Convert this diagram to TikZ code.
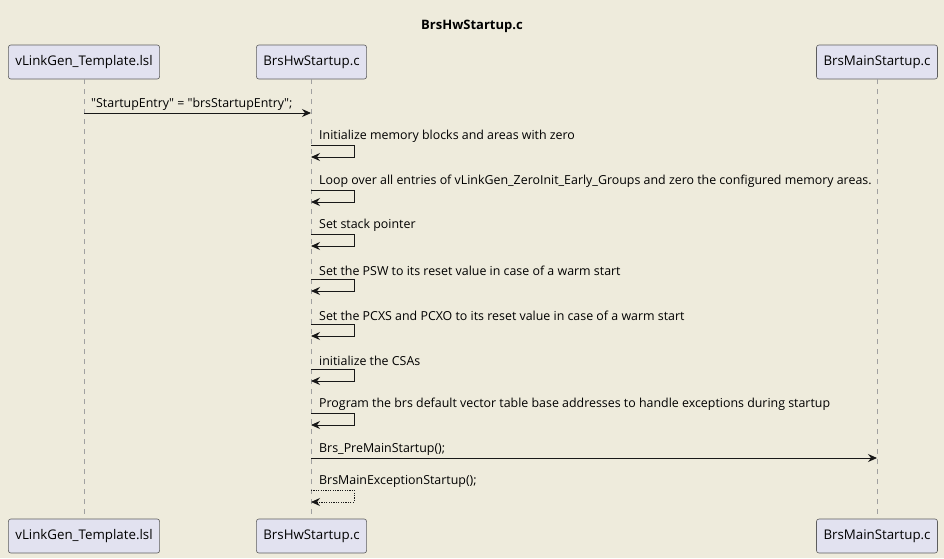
\documentclass[tikz,border=0pt]{standalone}
\usepackage{fontspec}
\setmainfont{Open Sans}
\usetikzlibrary{arrows.meta}
\definecolor{bg}{HTML}{EEEBDC}
\definecolor{pbox}{HTML}{E2E2F0}
\definecolor{pline}{HTML}{181818}
\definecolor{life}{HTML}{A0A0A0}
\tikzset{
  x=1pt, y=-1pt,
  part/.style={draw=pline!70, fill=pbox, rounded corners=2.5pt, line width=0.6pt, minimum height=34pt, inner xsep=7pt, font=\fontsize{13.3}{15}\selectfont, text=black},
  lifeline/.style={draw=life, dash pattern=on 5pt off 5pt, line width=0.8pt},
  msg/.style={draw=pline, line width=0.9pt, -{Stealth[length=9pt,width=8pt,inset=3pt]}},
  retmsg/.style={msg, dash pattern=on 1.2pt off 1.2pt},
  lbl/.style={font=\fontsize{12.4}{14}\selectfont, anchor=west, inner sep=0pt, text=black},
}
\begin{document}
\begin{tikzpicture}
\fill[bg] (0,0) rectangle (944,558);
\useasboundingbox (0,0) rectangle (944,558);
\node[font=\bfseries\fontsize{13}{15}\selectfont] (title) at (472,26) {BrsHwStartup.c};
% participants
\node[part] (aT) at (84,62) {vLinkGen\_Template.lsl};
\node[part] (bT) at (311.5,62) {BrsHwStartup.c};
\node[part] (cT) at (877,62) {BrsMainStartup.c};
\node[part] (aB) at (84,536) {vLinkGen\_Template.lsl};
\node[part] (bB) at (311.5,536) {BrsHwStartup.c};
\node[part] (cB) at (877,536) {BrsMainStartup.c};
\draw[lifeline] (aT.south) -- (aB.north);
\draw[lifeline] (bT.south) -- (bB.north);
\draw[lifeline] (cT.south) -- (cB.north);
% message 1
\coordinate (m1a) at (84,113);
\coordinate (m1b) at (311,113);
\draw[msg] (m1a) -- (m1b);
\node[lbl] (l1) at (91,104.5) {\textquotedbl StartupEntry\textquotedbl{} = \textquotedbl brsStartupEntry\textquotedbl;};
% self messages
\foreach \i/\y/\t in {
  2/135/{Initialize memory blocks and areas with zero},
  3/180/{Loop over all entries of vLinkGen\_ZeroInit\_Early\_Groups and zero the configured memory areas.},
  4/224/{Set stack pointer},
  5/269/{Set the PSW to its reset value in case of a warm start},
  6/314/{Set the PCXS and PCXO to its reset value in case of a warm start},
  7/359/{initialize the CSAs},
  8/403/{Program the brs default vector table base addresses to handle exceptions during startup}} {
  \node[lbl] (l\i) at (319,\y+1.5) {\t};
  \coordinate (s\i) at (311,\y+10);
  \coordinate (e\i) at (311,\y+22);
  \draw[msg] (s\i) -- ++(43,0) -- ++(0,12) -- (e\i);
}
% message to BrsMainStartup
\node[lbl] (l9) at (319,449.5) {Brs\_PreMainStartup();};
\coordinate (m9a) at (311,458);
\coordinate (m9b) at (877,458);
\draw[msg] (m9a) -- (m9b);
% dotted self message
\node[lbl] (l10) at (319,481.5) {BrsMainExceptionStartup();};
\coordinate (s10) at (311,490);
\coordinate (e10) at (311,502);
\draw[retmsg] (s10) -- ++(43,0) -- ++(0,12) -- (e10);
\end{tikzpicture}
\end{document}
